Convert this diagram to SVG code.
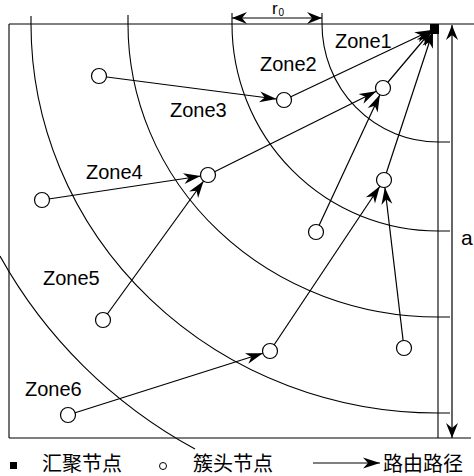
<svg xmlns="http://www.w3.org/2000/svg" width="474" height="476" viewBox="0 0 474 476">
<style>
.ln{fill:none;stroke:#000;stroke-width:1.1}
.rt{fill:none;stroke:#000;stroke-width:1.2;marker-end:url(#ah)}
.rs{fill:none;stroke:#000;stroke-width:1.2;marker-end:url(#ah0)}
.dm{fill:none;stroke:#000;stroke-width:1.2;marker-start:url(#dim);marker-end:url(#dim)}
.nd{fill:#fff;stroke:#000;stroke-width:1.2}
.zt{font-family:"Liberation Sans",Arial,sans-serif;font-size:20px;fill:#000}
.cj{font-family:"Noto Sans CJK SC",sans-serif;font-size:20px;fill:#000}
</style>
<defs>
<marker id="ah" markerUnits="userSpaceOnUse" orient="auto" refX="7.5" refY="0" markerWidth="20" markerHeight="20" overflow="visible"><path d="M0,0 L-17,-5.5 L-12,0 L-17,5.5 Z" fill="#000"/></marker>
<marker id="ah0" markerUnits="userSpaceOnUse" orient="auto" refX="0" refY="0" markerWidth="20" markerHeight="20" overflow="visible"><path d="M0,0 L-17,-5.5 L-12,0 L-17,5.5 Z" fill="#000"/></marker>
<marker id="dim" markerUnits="userSpaceOnUse" orient="auto-start-reverse" refX="0" refY="0" markerWidth="20" markerHeight="20" overflow="visible"><path d="M0,0 L-15,-6 L-10,0 L-15,6 Z" fill="#000"/></marker>
</defs>
<rect width="474" height="476" fill="#fff"/>

<g id="frame">
<path class="ln" d="M9,24 H474 M9,24 V438 M9,438 H471 M438,24 V438"/>
</g>

<g id="zones">
<path class="ln" d="M322,13 V24 A116,118 0 0,0 438,142 H450"/>
<path class="ln" d="M232,13 V24 A206,207 0 0,0 438,231 H450"/>
<path class="ln" d="M128,15 V24 A310,293 0 0,0 438,317 H450"/>
<path class="ln" d="M31,16 V24 A407,389 0 0,0 438,413 H450"/>
<path class="ln" d="M0,256 A498,487 0 0,0 195,449"/>
</g>

<g id="dimensions">
<path class="dm" d="M232,18 H322"/>
<text x="272" y="14" font-family="Liberation Sans, Arial, sans-serif" font-size="17">r</text>
<text x="278.5" y="16" font-family="Liberation Sans, Arial, sans-serif" font-size="10">0</text>
<path class="dm" d="M452,25 V438"/>
<text x="461" y="245" font-family="Liberation Sans, Arial, sans-serif" font-size="21">a</text>
</g>

<g id="labels">
<text class="zt" x="335" y="48">Zone1</text>
<text class="zt" x="260" y="71">Zone2</text>
<text class="zt" x="170" y="117">Zone3</text>
<text class="zt" x="86" y="179">Zone4</text>
<text class="zt" x="43" y="285">Zone5</text>
<text class="zt" x="25" y="396">Zone6</text>
</g>

<g id="connectors">
<path class="rt" d="M99,76 L284,100"/>
<path class="rs" d="M284,100 L432,30"/>
<path class="rt" d="M42,200 L208,175"/>
<path class="rt" d="M103,320 L208,175"/>
<path class="rt" d="M208,175 L383,88"/>
<path class="rt" d="M316,232 L383,88"/>
<path class="rs" d="M383,88 L432,30"/>
<path class="rt" d="M68,415 L270,351"/>
<path class="rt" d="M270,351 L384,180"/>
<path class="rt" d="M404,348 L384,180"/>
<path class="rs" d="M384,180 L433,31"/>
</g>

<g id="sink"><rect x="430" y="24" width="9" height="10" fill="#000"/></g>
<g id="n1"><circle class="nd" cx="99" cy="76" r="7.5"/></g>
<g id="n2"><circle class="nd" cx="284" cy="100" r="7.5"/></g>
<g id="n3"><circle class="nd" cx="383" cy="88" r="7.5"/></g>
<g id="n4"><circle class="nd" cx="208" cy="175" r="7.5"/></g>
<g id="n5"><circle class="nd" cx="42" cy="200" r="7.5"/></g>
<g id="n6"><circle class="nd" cx="384" cy="180" r="7.5"/></g>
<g id="n7"><circle class="nd" cx="316" cy="232" r="7.5"/></g>
<g id="n8"><circle class="nd" cx="103" cy="320" r="7.5"/></g>
<g id="n9"><circle class="nd" cx="270" cy="351" r="7.5"/></g>
<g id="n10"><circle class="nd" cx="404" cy="348" r="7.5"/></g>
<g id="n11"><circle class="nd" cx="68" cy="415" r="7.5"/></g>

<g id="legend">
<rect x="10" y="462" width="7" height="7" fill="#000"/>
<text class="cj" x="42" y="471">汇聚节点</text>
<circle cx="163" cy="466" r="3.5" fill="#fff" stroke="#000" stroke-width="1"/>
<text class="cj" x="193" y="471">簇头节点</text>
<path d="M313,463 H380" stroke="#000" stroke-width="1.2" fill="none" marker-end="url(#ah0)"/>
<text class="cj" x="383" y="471">路由路径</text>
</g>
</svg>
